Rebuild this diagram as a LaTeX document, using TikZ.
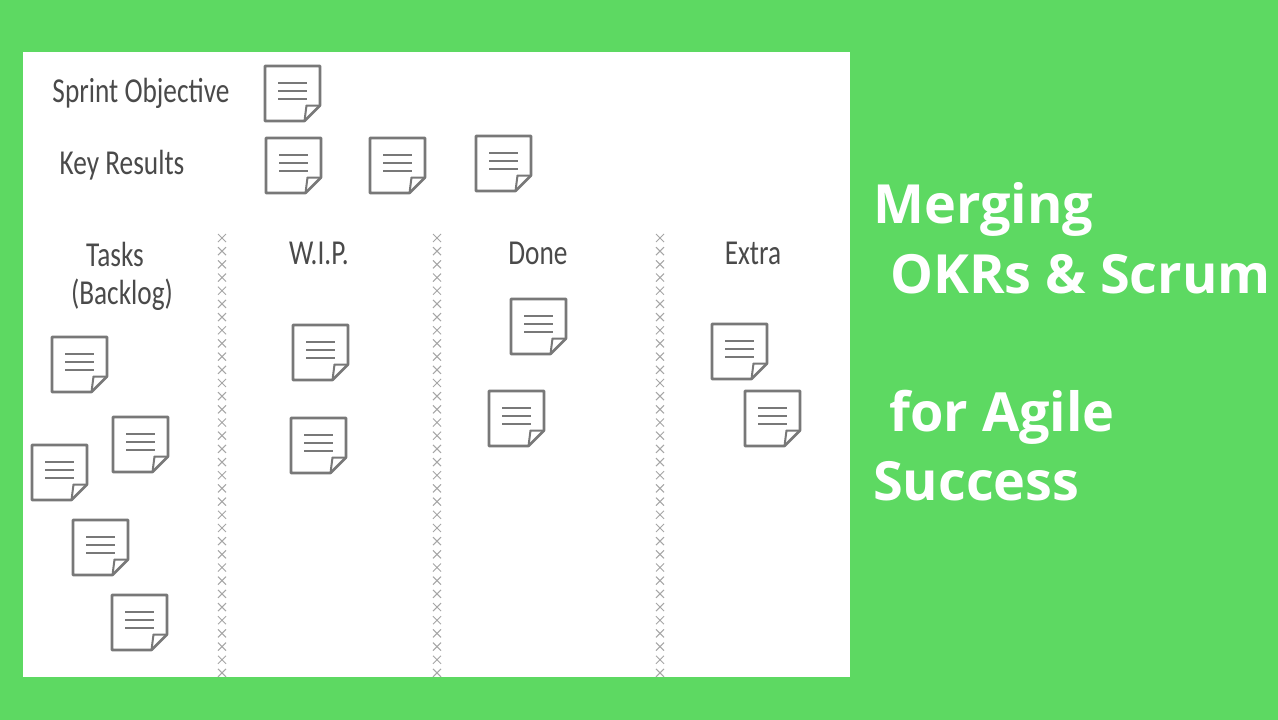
\documentclass[tikz,border=0pt]{standalone}
\usepackage{fontspec}
\usepackage{xcolor}
\setmainfont{Carlito}
\newfontfamily\titlefont{Open Sans}
\definecolor{boardgreen}{HTML}{5DD962}
\definecolor{notegray}{HTML}{787878}
\definecolor{crossgray}{HTML}{A6A6A6}
\definecolor{handink}{HTML}{4A4A4A}

\begin{document}
\begin{tikzpicture}[x=1pt,y=-1pt,
                    handlabel/.style={text=handink,inner sep=0pt,transform shape,xscale=0.78,font=\fontsize{35}{38}\selectfont},
                    titleline/.style={anchor=base west,text=white,inner sep=0pt,font=\titlefont\bfseries\fontsize{54}{60}\selectfont},
                    notecard/.pic={
                        \draw[notegray,line width=2.6pt,line join=round,fill=white]
                            (-27,-27) -- (28,-27) -- (28,12.5) -- (12.5,28) -- (-27,28) -- cycle;
                        \draw[notegray,line width=2pt,line join=round] (28,12.5) -- (14.5,12.5) -- (12.5,28);
                        \foreach \liney in {-10.5,-2.5,5.5}
                            \draw[notegray,line width=2pt] (-14,\liney) -- (15,\liney);
                    }]
    \useasboundingbox (0,0) rectangle (1278,720);
    \fill[boardgreen] (0,0) rectangle (1278,720);
    \fill[white] (23,52) rectangle (850,677);

    % separators
    \begin{scope}
        \clip (23,52) rectangle (850,677);
        \foreach \sepx in {222,437,660}
            \foreach \k in {0,...,33}
                \draw[crossgray,line width=1pt] (\sepx-4,238+13.18*\k-4) -- ++(8,8) (\sepx+4,238+13.18*\k-4) -- ++(-8,8);
    \end{scope}

    % labels
    \node[handlabel] (sprint) at (141,93) {Sprint Objective};
    \node[handlabel] (keyres) at (122,165) {Key Results};
    \node[handlabel] (tasks) at (115,254) {Tasks};
    \node[handlabel] (backlog) at (122,295) {(Backlog)};
    \node[handlabel] (wip) at (319,253) {W.I.P.};
    \node[handlabel] (done) at (538,253) {Done};
    \node[handlabel] (extra) at (753,253) {Extra};

    % notes
    \foreach \px/\py in {292/93,293/165,397/165,503/163,
                         79/364,140/444,59/472,100/547,139/622,
                         320/352,318/445,
                         538/326,516/418,
                         739/351,772/418}
        \pic at (\px,\py) {notecard};

    % title
    \node[titleline] (merging) at (873,223) {Merging};
    \node[titleline] (okrs) at (890,293) {OKRs \& Scrum};
    \node[titleline] (agile) at (889,431) {for Agile};
    \node[titleline] (success) at (873,500) {Success};
\end{tikzpicture}
\end{document}
